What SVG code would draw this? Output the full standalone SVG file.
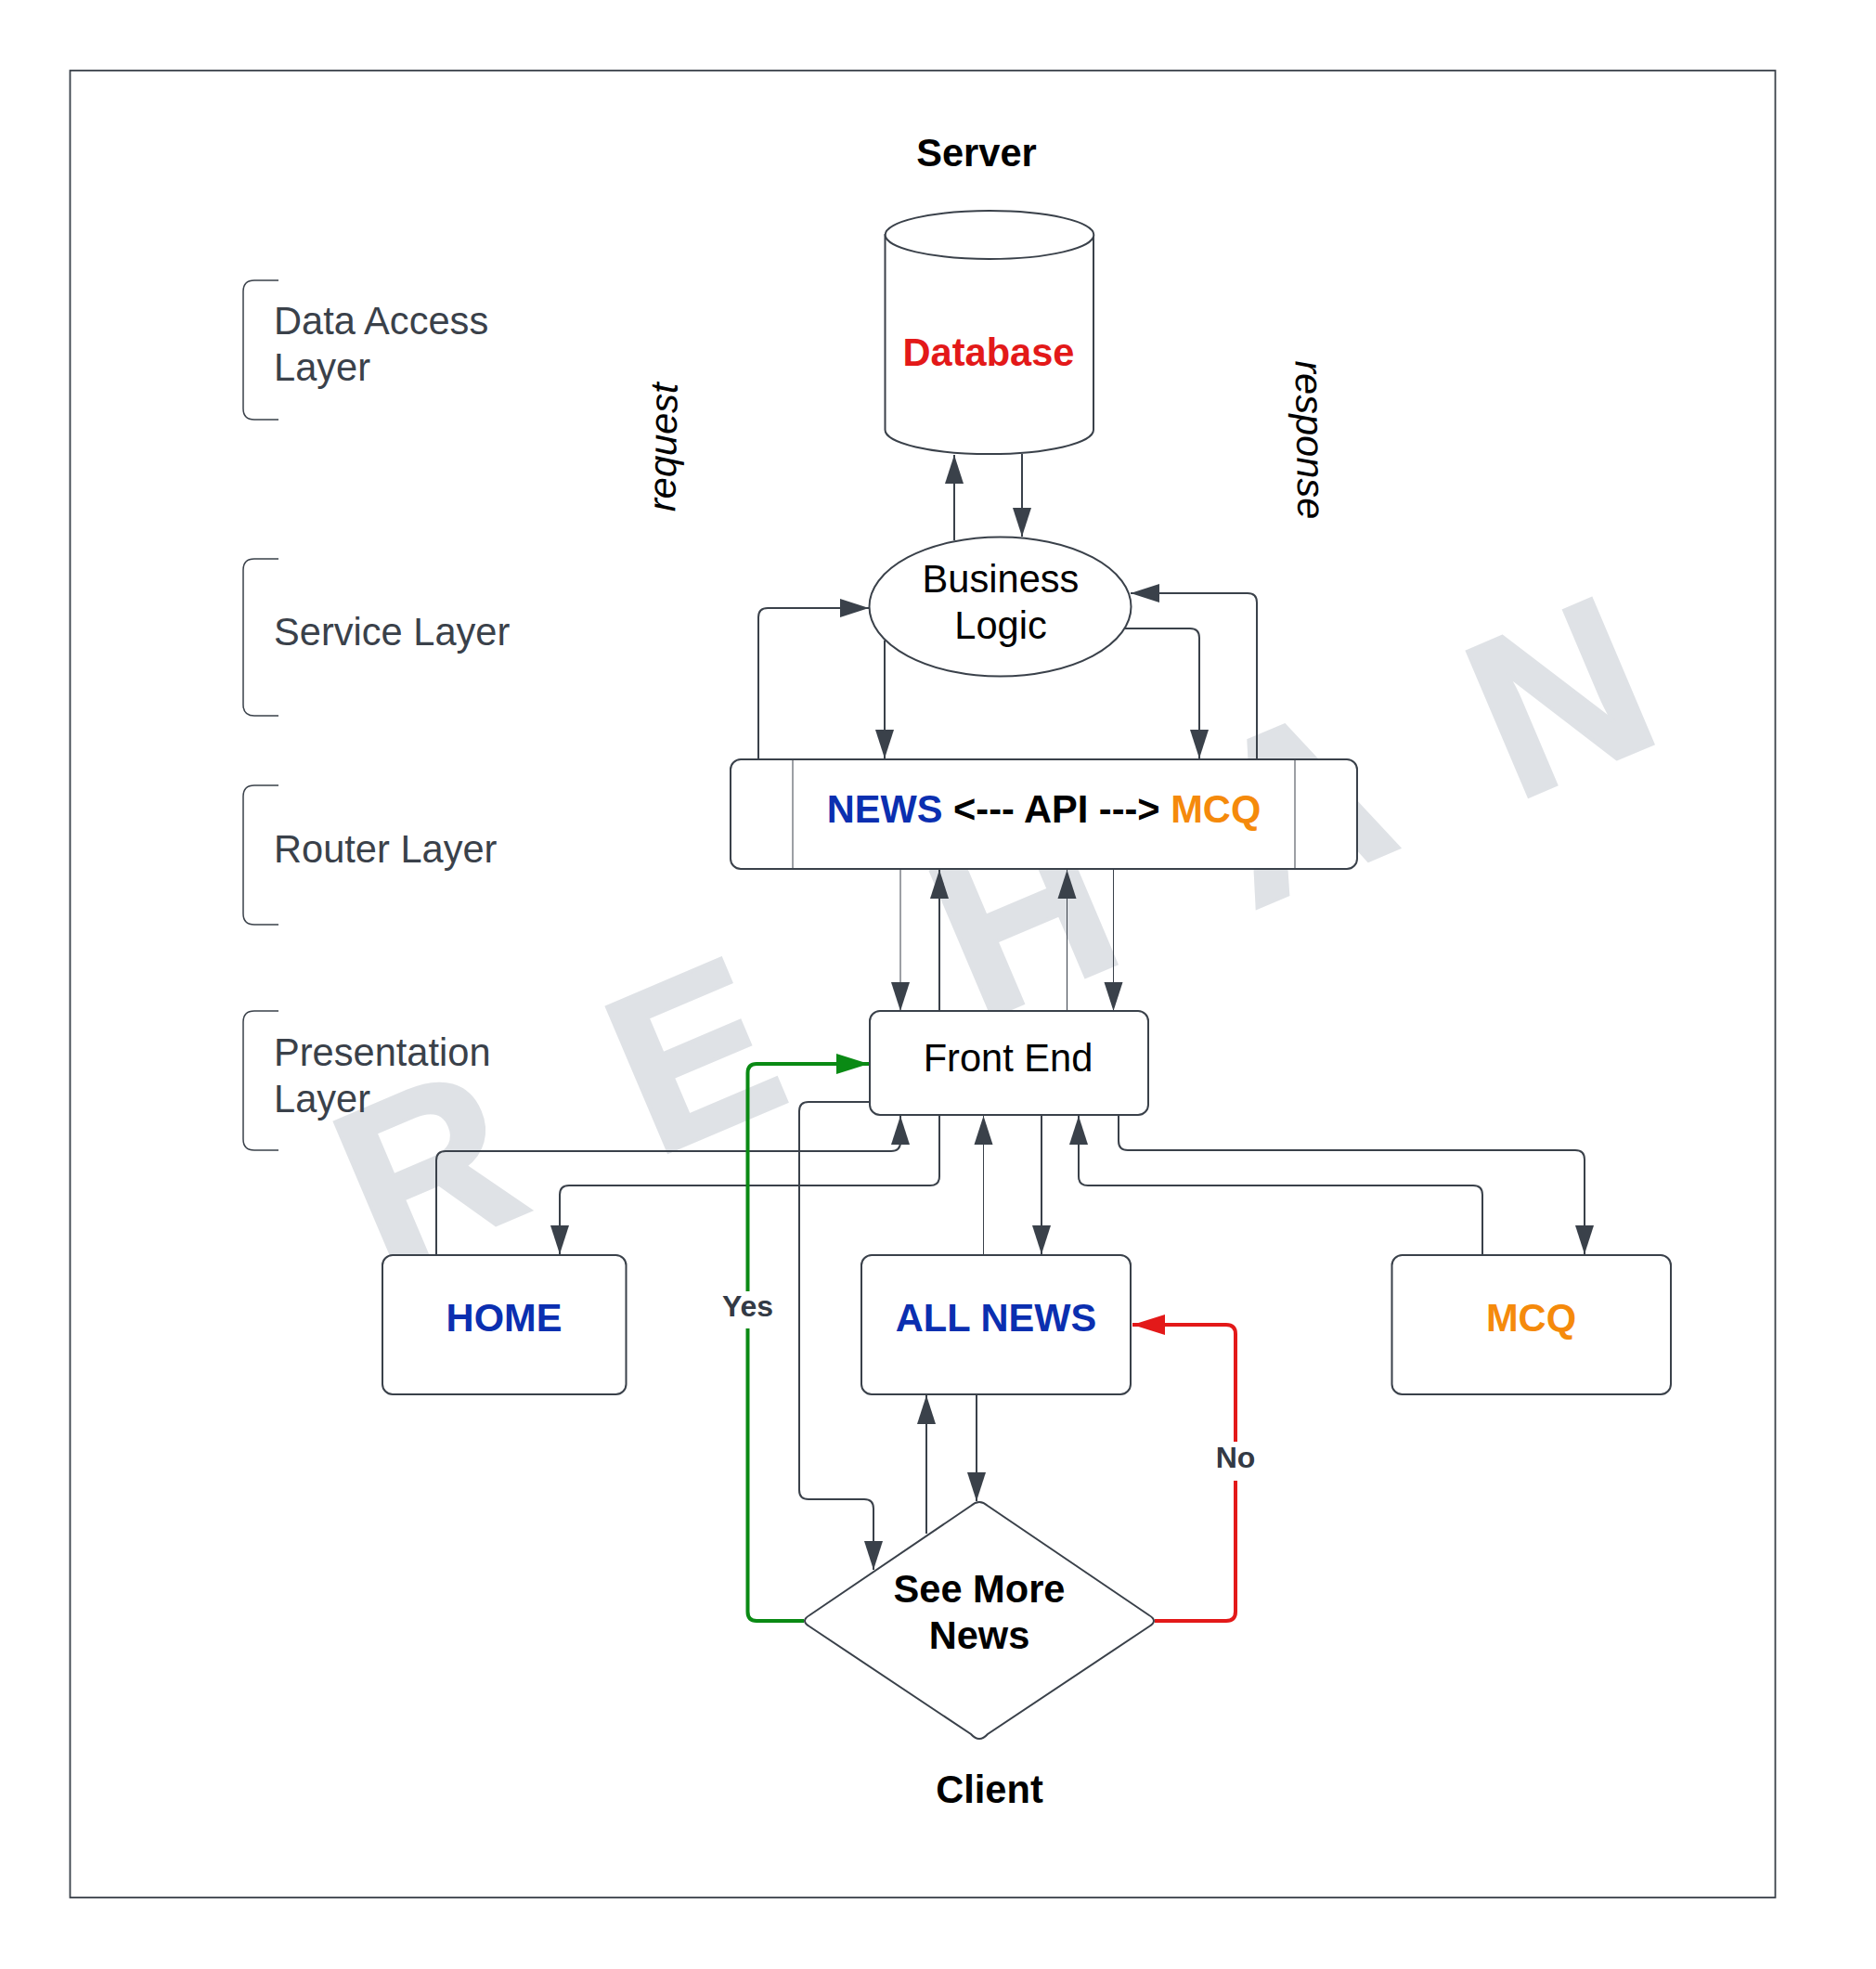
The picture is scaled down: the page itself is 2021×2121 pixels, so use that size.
<svg xmlns="http://www.w3.org/2000/svg" width="2021" height="2121" viewBox="0 0 2021 2121">
<style>
text{font-family:"Liberation Sans",Arial,sans-serif;font-size:41.600px}
.b{font-weight:700}
.m{text-anchor:middle}
.lay{fill:#3a414a}
.blue{fill:#0b2fb0}
.or{fill:#f58a0b}
.box{fill:#fff;stroke:#3a414a;stroke-width:2}
.c{fill:none;stroke:#3a414a;stroke-width:2}
.thin{stroke-width:1}
.br{fill:none;stroke:#3a414a;stroke-width:1.500}
.wm{font-size:246px;font-weight:700;fill:#dfe2e6;stroke:#dfe2e6;stroke-width:4}
</style>
<defs>
<marker id="a" markerUnits="userSpaceOnUse" markerWidth="32" markerHeight="24" refX="31" refY="12" orient="auto"><path d="M0 2L31 12L0 22Z" fill="#3a414a"/></marker>
<marker id="g" markerUnits="userSpaceOnUse" markerWidth="36" markerHeight="26" refX="35" refY="13" orient="auto"><path d="M0 2L35 13L0 24Z" fill="#0a8a14"/></marker>
<marker id="r" markerUnits="userSpaceOnUse" markerWidth="36" markerHeight="26" refX="35" refY="13" orient="auto"><path d="M0 2L35 13L0 24Z" fill="#e31919"/></marker>
</defs>
<rect width="2021" height="2121" fill="#fff"/>
<g id="watermark">
<text class="wm" transform="translate(412 1371) rotate(-23)">R</text>
<text class="wm" transform="translate(705 1247) rotate(-23)">E</text>
<text class="wm" transform="translate(1054 1101) rotate(-23)">H</text>
<text class="wm" transform="translate(1349 980) rotate(-23)">A</text>
<text class="wm" transform="translate(1632 864) rotate(-23)">N</text>
</g>
<rect id="frame" x="75.500" y="76" width="1837" height="1968" fill="none" stroke="#3a414a" stroke-width="1.800"/>
<g id="layers">
<path class="br" d="M300 302H274Q262 302 262 314V440Q262 452 274 452H300"/>
<path class="br" d="M300 602H274Q262 602 262 614V759Q262 771 274 771H300"/>
<path class="br" d="M300 846H274Q262 846 262 858V984Q262 996 274 996H300"/>
<path class="br" d="M300 1089H274Q262 1089 262 1101V1227Q262 1239 274 1239H300"/>
<text class="lay" x="295" y="360">Data Access</text><text class="lay" x="295" y="410">Layer</text>
<text class="lay" x="295" y="695">Service Layer</text>
<text class="lay" x="295" y="929">Router Layer</text>
<text class="lay" x="295" y="1148">Presentation</text><text class="lay" x="295" y="1198">Layer</text>
</g>
<g id="labels">
<text class="b m" x="1052" y="179">Server</text>
<text class="b m" x="1066" y="1942">Client</text>
<text transform="translate(728.500 482) rotate(-89)" class="m" font-style="italic">request</text>
<text transform="translate(1397 474) rotate(89)" class="m" font-style="italic">response</text>
</g>
<g id="connectors">
<path class="c" d="M1028 582V490" marker-end="url(#a)"/>
<path class="c" d="M1101 489V578" marker-end="url(#a)"/>
<path class="c" d="M817 818V665Q817 655 827 655H936" marker-end="url(#a)"/>
<path class="c" d="M1354 818V649Q1354 639 1344 639H1218" marker-end="url(#a)"/>
<path class="c" d="M953 690V817" marker-end="url(#a)"/>
<path class="c" d="M1212 677H1282Q1292 677 1292 687V817" marker-end="url(#a)"/>
<path class="c thin" d="M970 936V1089" marker-end="url(#a)"/>
<path class="c" d="M1012 1089V937" marker-end="url(#a)"/>
<path class="c thin" d="M1149.500 1089V937" marker-end="url(#a)"/>
<path class="c thin" d="M1199.500 936V1089" marker-end="url(#a)"/>
<path class="c" d="M470 1351V1250Q470 1240 480 1240H960Q970 1240 970 1230V1202" marker-end="url(#a)"/>
<path class="c" d="M1012 1201V1267Q1012 1277 1002 1277H613Q603 1277 603 1287V1351" marker-end="url(#a)"/>
<path class="c thin" d="M1059.500 1351V1202" marker-end="url(#a)"/>
<path class="c" d="M1122 1201V1351" marker-end="url(#a)"/>
<path class="c" d="M1597 1351V1287Q1597 1277 1587 1277H1172Q1162 1277 1162 1267V1202" marker-end="url(#a)"/>
<path class="c" d="M1205 1201V1229Q1205 1239 1215 1239H1697Q1707 1239 1707 1249V1351" marker-end="url(#a)"/>
<path class="c" d="M1052 1502V1617" marker-end="url(#a)"/>
<path class="c" d="M998 1652V1503" marker-end="url(#a)"/>
<path class="c" d="M937 1187H871Q861 1187 861 1197V1605Q861 1615 871 1615H931Q941 1615 941 1625V1691" marker-end="url(#a)"/>
<path d="M866 1746H815Q805.500 1746 805.500 1736V1156Q805.500 1146 815 1146H936" fill="none" stroke="#0a8a14" stroke-width="4" marker-end="url(#g)"/>
<path d="M1244 1746H1321Q1331 1746 1331 1736V1437Q1331 1427 1321 1427H1220" fill="none" stroke="#e31919" stroke-width="4" marker-end="url(#r)"/>
<rect x="770" y="1391" width="70" height="40" fill="#fff"/>
<rect x="1305" y="1553" width="52" height="42" fill="#fff"/>
<text class="b m" x="805.500" y="1418" style="font-size:32px;fill:#333a45">Yes</text>
<text class="b m" x="1331" y="1581" style="font-size:32px;fill:#333a45">No</text>
</g>
<g id="database">
<path class="box" d="M953.500 253V463A112 26 0 0 0 1178 463V253Z"/>
<ellipse class="box" cx="1066" cy="253" rx="112.300" ry="26"/>
<text class="b m" x="1065" y="394" style="fill:#e31919">Database</text>
</g>
<g id="business-logic">
<ellipse class="box" cx="1077.500" cy="653.500" rx="141" ry="75"/>
<text class="m" x="1078" y="638">Business</text><text class="m" x="1078" y="688">Logic</text>
</g>
<g id="api">
<rect class="box" x="787" y="818" width="675" height="118" rx="11"/>
<path class="c thin" d="M854 818V936M1395 818V936"/>
<text class="b m" x="1124.500" y="886"><tspan class="blue">NEWS</tspan> &lt;--- API ---&gt; <tspan class="or">MCQ</tspan></text>
</g>
<g id="front-end">
<rect class="box" x="937" y="1089" width="300" height="112" rx="11"/>
<text class="m" x="1086" y="1154">Front End</text>
</g>
<g id="home">
<rect class="box" x="412" y="1352" width="262.500" height="150" rx="11"/>
<text class="b m blue" x="543" y="1434">HOME</text>
</g>
<g id="all-news">
<rect class="box" x="928" y="1352" width="290" height="150" rx="11"/>
<text class="b m blue" x="1073" y="1434">ALL NEWS</text>
</g>
<g id="mcq">
<rect class="box" x="1499.500" y="1352" width="300.500" height="150" rx="11"/>
<text class="b m or" x="1649.500" y="1434">MCQ</text>
</g>
<g id="see-more">
<path class="box" d="M1046 1622Q1055 1614 1064 1622L1238 1740Q1248 1746 1238 1752L1064 1868Q1055 1878 1046 1868L872 1752Q862 1746 872 1740Z"/>
<text class="b m" x="1055" y="1726">See More</text><text class="b m" x="1055" y="1776">News</text>
</g>
</svg>
